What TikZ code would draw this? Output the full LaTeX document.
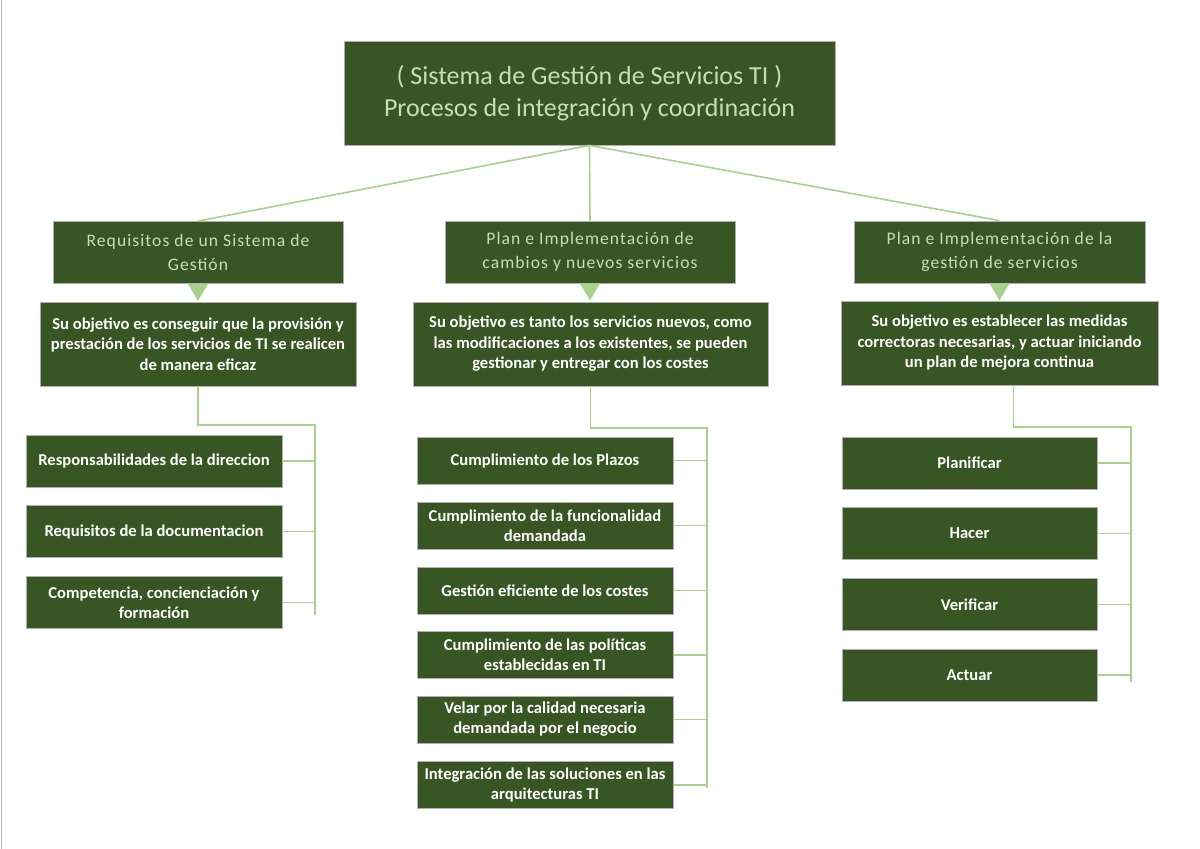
\documentclass[tikz,border=0pt]{standalone}
\usepackage{fontspec}
\setmainfont{Carlito}
\newfontfamily\widefont[LetterSpace=6]{Carlito}
\definecolor{boxgreen}{HTML}{375623}
\definecolor{linegreen}{HTML}{A9D18E}
\definecolor{palegreen}{HTML}{C5E0B4}
\definecolor{edgegray}{HTML}{B0B0B0}
\begin{document}
\begin{tikzpicture}[x=1pt,y=-1pt,
  gbox/.style={draw=edgegray, line width=0.8pt, fill=boxgreen, align=center, inner sep=0pt},
  titlebox/.style={gbox, minimum width=491pt, minimum height=104pt, text=palegreen, font=\fontsize{26}{32}\selectfont},
  lvlone/.style={gbox, minimum width=290pt, minimum height=62pt, text=palegreen, font=\widefont\fontsize{17.6}{24}\selectfont},
  lvltwo/.style={gbox, minimum height=84pt, text=white, font=\bfseries\fontsize{16.6}{20.5}\selectfont},
  lvlthree/.style={gbox, minimum width=256pt, text=white, font=\bfseries\fontsize{16.6}{20}\selectfont},
  conn/.style={draw=linegreen, line width=1.6pt},
  tri/.style={fill=linegreen}
]
\useasboundingbox (0,0) rectangle (1200,849);
\fill[white] (0,0) rectangle (1200,849);
\draw[edgegray, line width=1pt] (1,0) -- (1,849);

% title
\node[titlebox] (title) at (589.5,93) {( Sistema de Gestión de Servicios TI )\\Procesos de integración y coordinación};

% level 1
\node[lvlone] (Ia) at (198,252.5) {Requisitos de un Sistema de\\Gestión};
\node[lvlone] (Ib) at (590,252) {Plan e Implementación de\\cambios y nuevos servicios};
\node[lvlone, minimum width=291pt] (Ic) at (999.5,252) {Plan e Implementación de la\\gestión de servicios};

\draw[conn] (title.south) -- (Ia.north);
\draw[conn] (title.south) -- (Ib.north);
\draw[conn] (title.south) -- (Ic.north);

% level 2
\node[lvltwo, minimum width=316pt] (IIa) at (198,344) {Su objetivo es conseguir que la provisión y\\prestación de los servicios de TI se realicen\\de manera eficaz};
\node[lvltwo, minimum width=355pt] (IIb) at (590.5,344) {Su objetivo es tanto los servicios nuevos, como\\las modificaciones a los existentes, se pueden\\gestionar y entregar con los costes};
\node[lvltwo, minimum width=317pt] (IIc) at (999.5,343) {Su objetivo es establecer las medidas\\correctoras necesarias, y actuar iniciando\\un plan de mejora continua};

% triangles
\fill[tri] (Ia.south) ++(-10,0) -- ++(20,0) -- ++(-10,17) -- cycle;
\fill[tri] (Ib.south) ++(-10,0) -- ++(20,0) -- ++(-10,17) -- cycle;
\fill[tri] (Ic.south) ++(-10,0) -- ++(20,0) -- ++(-10,17) -- cycle;

% level 3 left
\node[lvlthree, minimum height=52pt] (a1) at (154,461) {Responsabilidades de la direccion};
\node[lvlthree, minimum height=52pt] (a2) at (154,531.5) {Requisitos de la documentacion};
\node[lvlthree, minimum height=52pt] (a3) at (154,602.5) {Competencia, concienciación y\\formación};

% level 3 middle
\node[lvlthree, minimum height=47pt] (b1) at (545,460.5) {Cumplimiento de los Plazos};
\node[lvlthree, minimum height=47pt] (b2) at (545,525.5) {Cumplimiento de la funcionalidad\\demandada};
\node[lvlthree, minimum height=47pt] (b3) at (545,590.5) {Gestión eficiente de los costes};
\node[lvlthree, minimum height=47pt] (b4) at (545,655) {Cumplimiento de las políticas\\establecidas en TI};
\node[lvlthree, minimum height=47pt] (b5) at (545,719.5) {Velar por la calidad necesaria\\demandada por el negocio};
\node[lvlthree, minimum height=47pt] (b6) at (545,785) {Integración de las soluciones en las\\arquitecturas TI};

% level 3 right
\node[lvlthree, minimum width=255pt, minimum height=52pt] (c1) at (969.5,463) {Planificar};
\node[lvlthree, minimum width=255pt, minimum height=52pt] (c2) at (969.5,533.5) {Hacer};
\node[lvlthree, minimum width=255pt, minimum height=52pt] (c3) at (969.5,604.5) {Verificar};
\node[lvlthree, minimum width=255pt, minimum height=52pt] (c4) at (969.5,675) {Actuar};

% buses
\coordinate (busA) at (315,425);
\coordinate (busAend) at (315,615);
\coordinate (busB) at (707,428);
\coordinate (busBend) at (707,788);
\coordinate (busC) at (1131,427);
\coordinate (busCend) at (1131,682);

\draw[conn] (IIa.south) |- (busA) -- (busAend);
\draw[conn] (IIb.south) |- (busB) -- (busBend);
\draw[conn] ([xshift=14pt]IIc.south) |- (busC) -- (busCend);

\foreach \n in {a1,a2,a3} \draw[conn] (\n.east) -- (\n.east -| busA);
\foreach \n in {b1,b2,b3,b4,b5,b6} \draw[conn] (\n.east) -- (\n.east -| busB);
\foreach \n in {c1,c2,c3,c4} \draw[conn] (\n.east) -- (\n.east -| busC);
\end{tikzpicture}
\end{document}
